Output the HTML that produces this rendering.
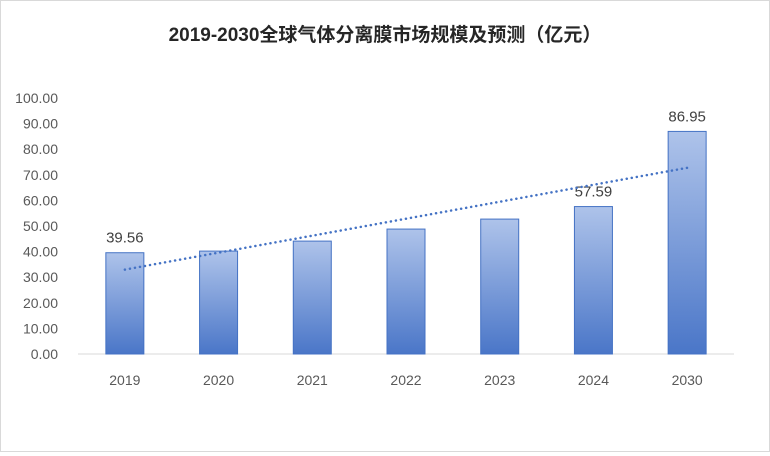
<!DOCTYPE html>
<html><head><meta charset="utf-8"><style>
body{margin:0;background:#fff;}
#c{position:relative;width:768px;height:450px;border:1px solid #d9d9d9;font-family:"Liberation Sans","Noto Sans CJK SC",sans-serif;}
</style></head><body>
<div id="c">
<svg id="s" width="768" height="450" xmlns="http://www.w3.org/2000/svg">
<defs><linearGradient id="g" x1="0" y1="0" x2="0" y2="1"><stop offset="0" stop-color="#aec3ea"/><stop offset="1" stop-color="#4a76c8"/></linearGradient></defs>
<text x="384" y="40" text-anchor="middle" font-size="19" font-weight="bold" fill="#262626" font-family="Liberation Sans,Noto Sans CJK SC,sans-serif">2019-2030全球气体分离膜市场规模及预测（亿元）</text>
</svg>
</div>
<script>
const categories=["2019","2020","2021","2022","2023","2024","2030"];
const values=[39.56,40.2,44.1,48.8,52.7,57.59,86.95];
const labeled=[true,false,false,false,false,true,true];
const yTicks=[0,10,20,30,40,50,60,70,80,90,100];
const svg=document.getElementById('s');
const NS="http://www.w3.org/2000/svg";
const x0=77,x1=733,y0=353,yTop=97,yMax=100;
const step=(x1-x0)/categories.length;
const xs=i=>x0+step*(i+0.5);
const ys=v=>y0-(v/yMax)*(y0-yTop);
function mk(t,a){const e=document.createElementNS(NS,t);for(const k in a)e.setAttribute(k,a[k]);svg.appendChild(e);return e;}
yTicks.forEach(v=>{const t=mk('text',{x:57,y:ys(v)+5,'text-anchor':'end','font-size':14,fill:'#595959'});t.textContent=v.toFixed(2);

});
const ax=mk('line',{x1:x0,x2:x1,y1:y0,y2:y0,stroke:'#d9d9d9','stroke-width':1});


const bw=38;
values.forEach((v,i)=>{const r=mk('rect',{x:xs(i)-bw/2,y:ys(v),width:bw,height:y0-ys(v),fill:'url(#g)',stroke:'#4472c4','stroke-width':1});


const t=mk('text',{x:xs(i),y:384,'text-anchor':'middle','font-size':14,fill:'#595959'});t.textContent=categories[i];


if(labeled[i]){const l=mk('text',{x:xs(i),y:ys(v)-10,'text-anchor':'middle','font-size':15,fill:'#404040'});l.textContent=v.toFixed(2);

}
});
// linear trendline
const n=values.length;let mx=(n-1)/2,my=values.reduce((a,b)=>a+b)/n,sxy=0,sxx=0;
values.forEach((v,i)=>{sxy+=(i-mx)*(v-my);sxx+=(i-mx)*(i-mx);});
const b=sxy/sxx,a=my-b*mx;
const tl=mk('line',{x1:xs(0),y1:ys(a),x2:xs(n-1),y2:ys(a+b*(n-1)),stroke:'#4472c4','stroke-width':2.5,'stroke-dasharray':'0.1 5','stroke-linecap':'round'});


</script>
</body></html>
